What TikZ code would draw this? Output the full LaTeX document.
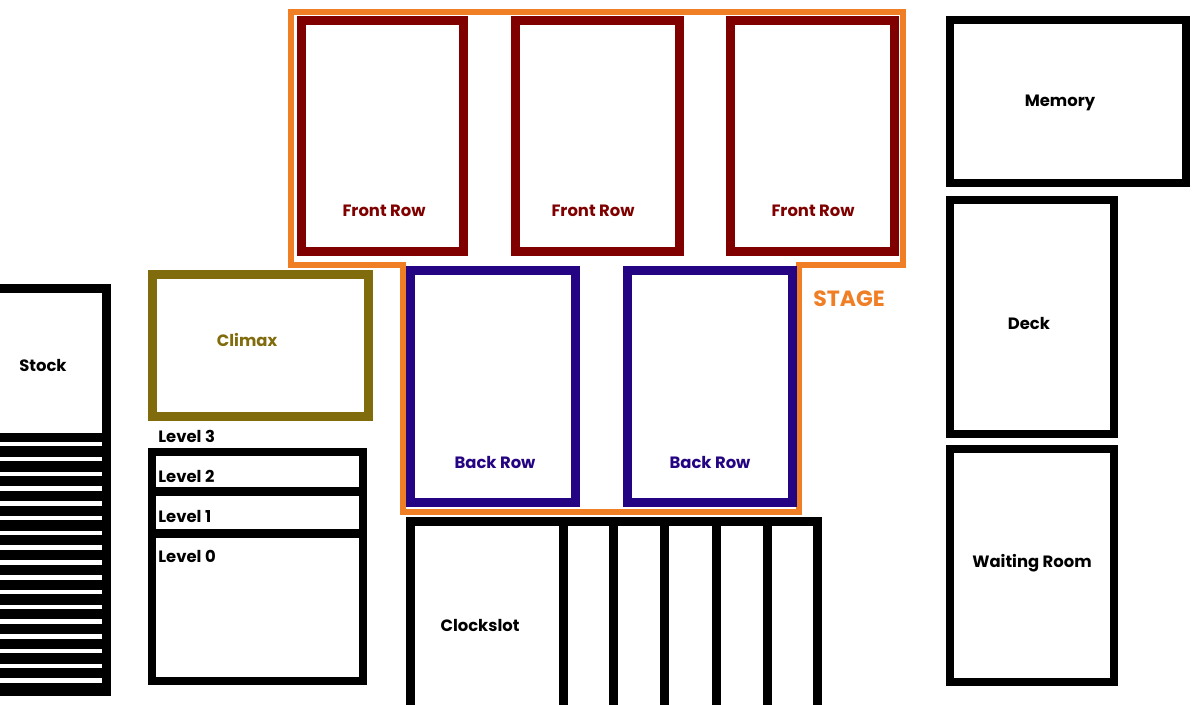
\documentclass[tikz,border=0pt]{standalone}
\usepackage{fontspec}
\setmainfont{Poppins}
\usetikzlibrary{fit}
\definecolor{frontred}{RGB}{128,0,0}
\definecolor{backblue}{RGB}{36,4,130}
\definecolor{stageorange}{RGB}{240,126,36}
\definecolor{climaxolive}{RGB}{128,108,12}
\tikzset{
  zonebox/.style={draw=black, line width=4pt, inner sep=0pt, rectangle},
  frontbox/.style={zonebox, draw=frontred, line width=4.5pt},
  backbox/.style={zonebox, draw=backblue, line width=4.5pt},
  climaxbox/.style={zonebox, draw=climaxolive, line width=4.5pt},
  stageline/.style={draw=stageorange, line width=2.7pt, line join=miter},
  blackline/.style={draw=black, line width=4.5pt},
  lbl/.style={font=\bfseries\fontsize{8.2}{9}\selectfont, inner sep=0pt, text=black},
  leftlbl/.style={lbl, anchor=west},
}
\begin{document}
\begin{tikzpicture}[x=0.5pt, y=-0.5pt]
\useasboundingbox (0,0) rectangle (1200,705);
\clip (0,0) rectangle (1200,705);
\fill[white] (0,0) rectangle (1200,705);

% Stage outline
\path[stageline] (291,12) -- (903,12) -- (903,265) -- (799,265) -- (799,512)
  -- (403,512) -- (403,265) -- (291,265) -- cycle;
\node[lbl, text=stageorange, font=\bfseries\fontsize{11}{12}\selectfont] (stage) at (849,299) {STAGE};

% Front row
\node[frontbox, fit={(301,21) (463,252)}] (fr1) {};
\node[frontbox, fit={(515,21) (679,252)}] (fr2) {};
\node[frontbox, fit={(730,21) (894,252)}] (fr3) {};
\node[lbl, text=frontred] (fr1t) at (384,211) {Front Row};
\node[lbl, text=frontred] (fr2t) at (593,211) {Front Row};
\node[lbl, text=frontred] (fr3t) at (813,211) {Front Row};

% Back row
\node[backbox, fit={(410,271) (575,503)}] (br1) {};
\node[backbox, fit={(627,271) (792,503)}] (br2) {};
\node[lbl, text=backblue] (br1t) at (495,462) {Back Row};
\node[lbl, text=backblue] (br2t) at (710,462) {Back Row};

% Climax
\node[climaxbox, fit={(152,275) (368,417)}] (climax) {};
\node[lbl, text=climaxolive] (climaxt) at (247,340) {Climax};

% Levels
\node[leftlbl] (lv3) at (158,436) {Level 3};
\node[zonebox, fit={(152,452) (363,681)}] (levels) {};
\path[blackline] (levels.west |- 0,492) -- (levels.east |- 0,492);
\path[blackline] (levels.west |- 0,534) -- (levels.east |- 0,534);
\node[leftlbl] (lv2) at (158,476) {Level 2};
\node[leftlbl] (lv1) at (158,516) {Level 1};
\node[leftlbl] (lv0) at (158,556) {Level 0};

% Stock
\fill[black] (-10,433) rectangle (104,689);
\foreach \k in {0,...,16} {
  \fill[white] (-10,{442+14.78*\k}) rectangle (102,{446.5+14.78*\k});
}
\path[blackline] (-10,289) -- (106,289) -- (106,691) -- (-10,691);
\node[lbl] (stock) at (43,365) {Stock};

% Clock
\path[blackline] (410.5,720) -- (410.5,522) -- (817.5,522) -- (817.5,720);
\foreach \xx in {563,613,664.5,716,767} {
  \path[blackline] (\xx,522) -- (\xx,720);
}
\node[lbl] (clock) at (480,625) {Clockslot};

% Right column
\node[zonebox, fit={(950,20) (1186,183)}] (memory) {};
\node[lbl] (memoryt) at (1060,103) {Memory};
\node[zonebox, fit={(950,200) (1114,434)}] (deck) {};
\node[lbl] (deckt) at (1029,323) {Deck};
\node[zonebox, fit={(950,449) (1114,682)}] (wr) {};
\node[lbl] (wrt) at (1032,563) {Waiting Room};
\end{tikzpicture}
\end{document}
